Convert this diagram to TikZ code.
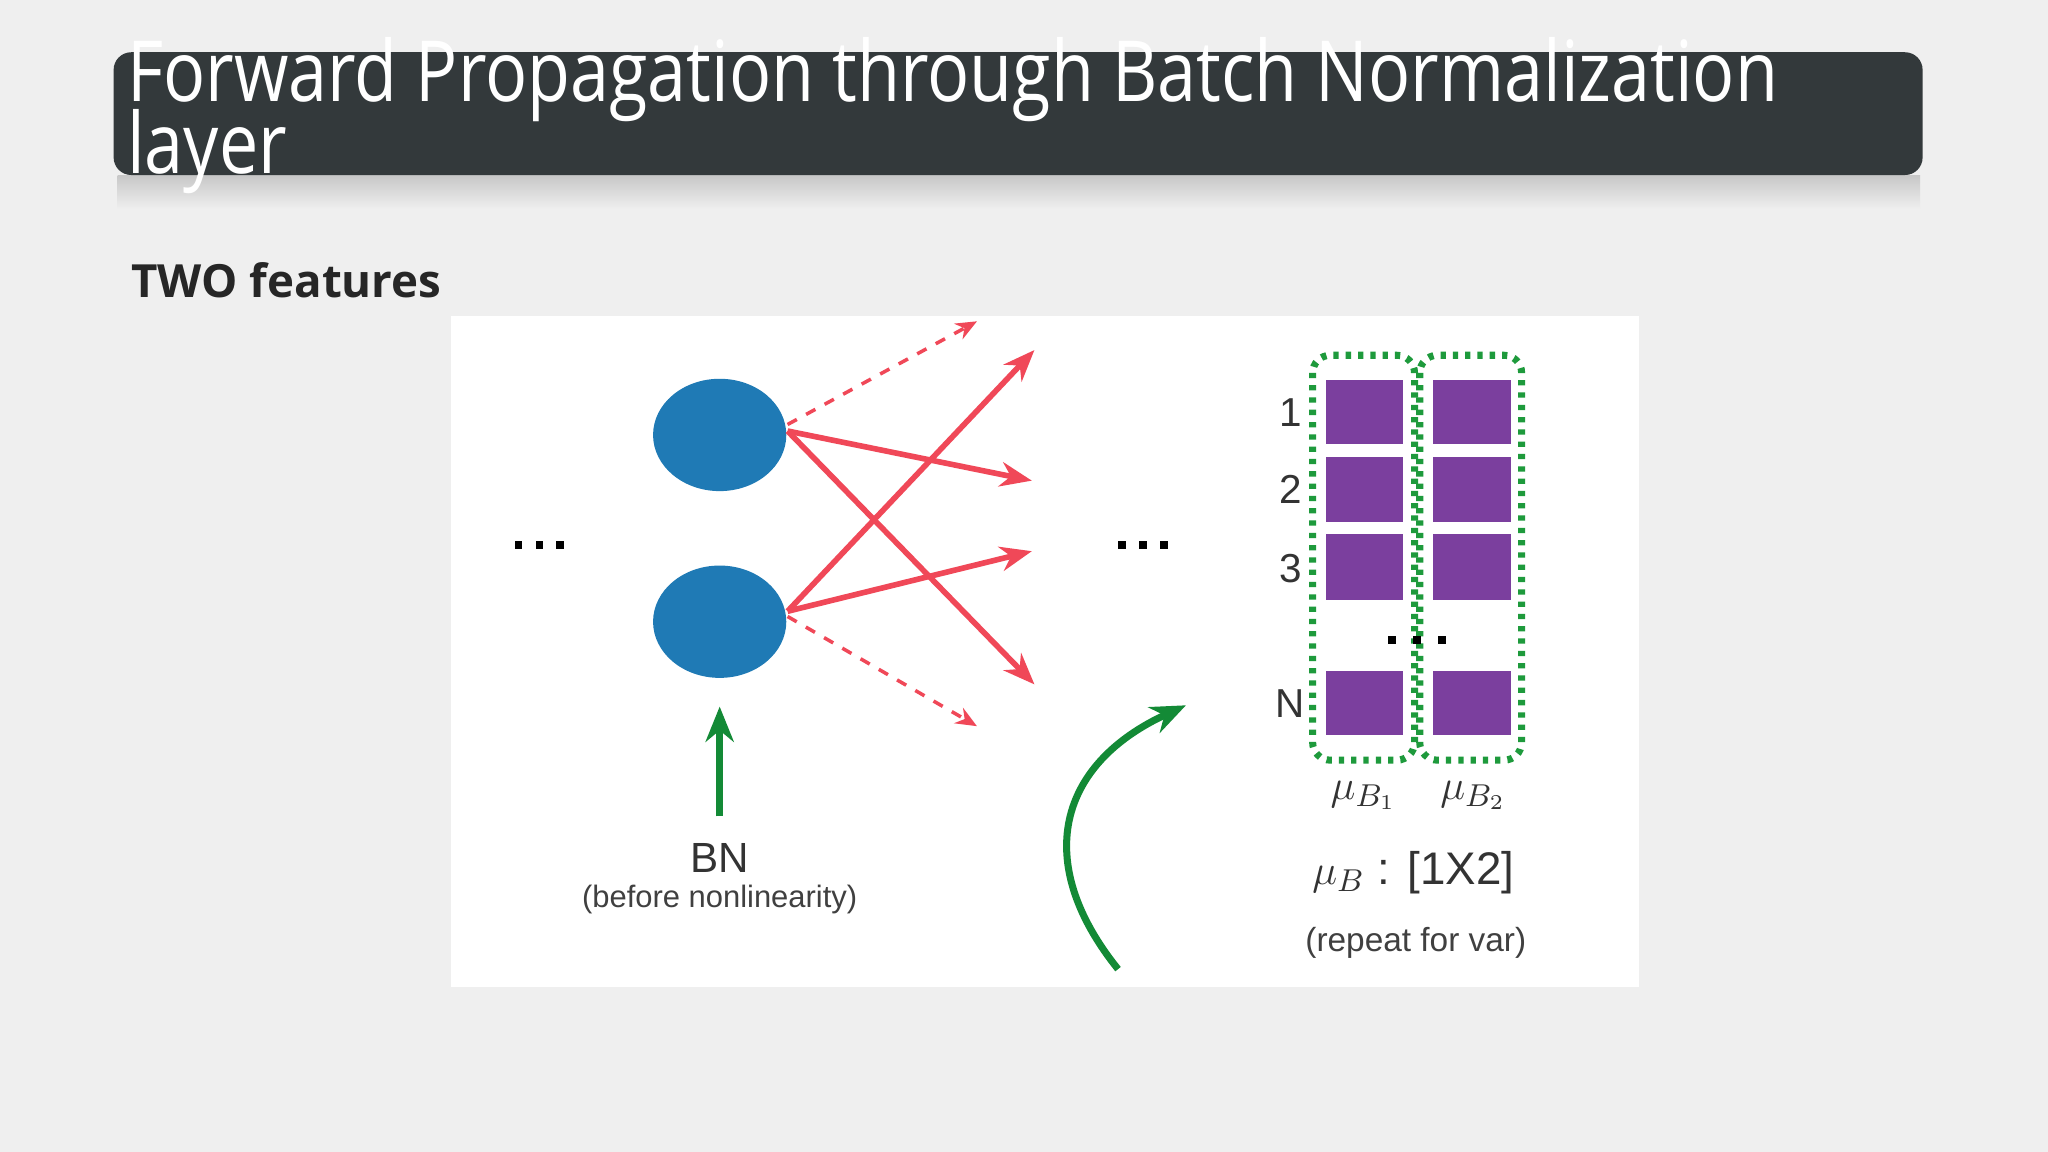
\documentclass[tikz,border=0pt]{standalone}
\usepackage{fontspec}
\setmainfont{Liberation Sans}
\newfontfamily\titlefont{Open Sans}
\usetikzlibrary{arrows.meta}
\definecolor{bg}{HTML}{EFEFEF}
\definecolor{bar}{HTML}{33393B}
\definecolor{blu}{HTML}{1F7AB5}
\definecolor{rd}{HTML}{F04858}
\definecolor{gr}{HTML}{138A36}
\definecolor{pur}{HTML}{7B3F9E}
\definecolor{dgr}{HTML}{1E9A3C}
\begin{document}
\begin{tikzpicture}[x=0.013061cm,y=-0.013061cm,
  redarr/.style={draw=rd,line width=1.6pt,-{Stealth[length=9pt,width=7pt]}},
  reddash/.style={draw=rd,line width=1pt,dashed,-{Stealth[length=6pt,width=5pt]}},
  grarr/.style={draw=gr,line width=2pt,-{Stealth[length=10pt,width=8pt]}},
  lab/.style={font=\fontsize{11.5pt}{13pt}\selectfont,text=black!80},
  box/.style={draw=dgr,line width=2pt,dash pattern=on 1.5pt off 2pt,rounded corners=5pt}]
\useasboundingbox (0,0) rectangle (1568,882);
\fill[bg] (0,0) rectangle (1568,882);
% title
\shade[top color=black!22,bottom color=bg] (90,134) rectangle (1470,160);
\fill[bar,rounded corners=5pt] (87,40) rectangle (1472,134);
\node[anchor=base west,text=white,inner sep=0,xscale=0.83,
  font=\titlefont\fontsize{24pt}{21pt}\selectfont] (title) at (97,78)
  {Forward Propagation through Batch Normalization};
\node[anchor=base west,text=white,inner sep=0,xscale=0.83,
  font=\titlefont\fontsize{24pt}{21pt}\selectfont] (title2) at (97,133) {layer};
\node[anchor=base west,inner sep=0,text=black!85,font=\titlefont\bfseries\fontsize{13pt}{15pt}\selectfont] (sub) at (100,228) {TWO features};
% panel
\fill[white] (345,242) rectangle (1255,756);
\fill[blu] (551,333) ellipse [x radius=51, y radius=43];
\fill[blu] (551,476) ellipse [x radius=51, y radius=43];
\coordinate (n1) at (603,330);
\coordinate (n2) at (603,468);
\coordinate (a1) at (792,268); \coordinate (a2) at (790,368);
\coordinate (a3) at (790,422); \coordinate (a4) at (792,524);
\coordinate (d1) at (748,246); \coordinate (d2) at (748,556);
\draw[redarr] (n1) -- (a2);
\draw[redarr] (n1) -- (a4);
\draw[redarr] (n2) -- (a1);
\draw[redarr] (n2) -- (a3);
\draw[reddash] (603,325) -- (d1);
\draw[reddash] (603,472) -- (d2);
\foreach \x in {397,413,429}{\fill (\x-3,414) rectangle (\x+3,420);}
\foreach \x in {859,875,891}{\fill (\x-3,414) rectangle (\x+3,420);}
\coordinate (g0) at (551,625); \coordinate (g1) at (551,541);
\draw[grarr] (g0) -- (g1);
\coordinate (c0) at (856,742); \coordinate (c1) at (908,540);
\draw[grarr] (c0) .. controls (790,660) and (810,585) .. (c1);
\node[font=\fontsize{12pt}{14pt}\selectfont,text=black!80] (bn) at (551,657) {BN};
\node[font=\fontsize{8.8pt}{10pt}\selectfont,text=black!75] (bnl) at (551,689) {(before nonlinearity)};
% squares
\foreach \y/\h in {291/340,350/400,409/459,514/563}{
  \fill[pur] (1015,\y) rectangle (1074,\h);
  \fill[pur] (1097,\y) rectangle (1157,\h);}
\node[lab] (r1) at (988,316) {1};
\node[lab] (r2) at (988,375) {2};
\node[lab] (r3) at (988,435) {3};
\node[lab] (rn) at (988,539) {N};
\draw[box] (1005,272) rectangle (1083,582);
\draw[box] (1087,272) rectangle (1165,582);
\foreach \x in {1066,1085,1104}{\fill (\x-3,487) rectangle (\x+3,493);}
\node[lab,font=\fontsize{13pt}{15pt}\selectfont] (m1) at (1044,609) {$\mu_{B_1}$};
\node[lab,font=\fontsize{13pt}{15pt}\selectfont] (m2) at (1128,609) {$\mu_{B_2}$};
\node[lab,font=\fontsize{13pt}{15pt}\selectfont] (mb) at (1082,668) {$\mu_B$ : [1X2]};
\node[font=\fontsize{9.5pt}{11pt}\selectfont,text=black!75] (rep) at (1084,722) {(repeat for var)};
\end{tikzpicture}
\end{document}
